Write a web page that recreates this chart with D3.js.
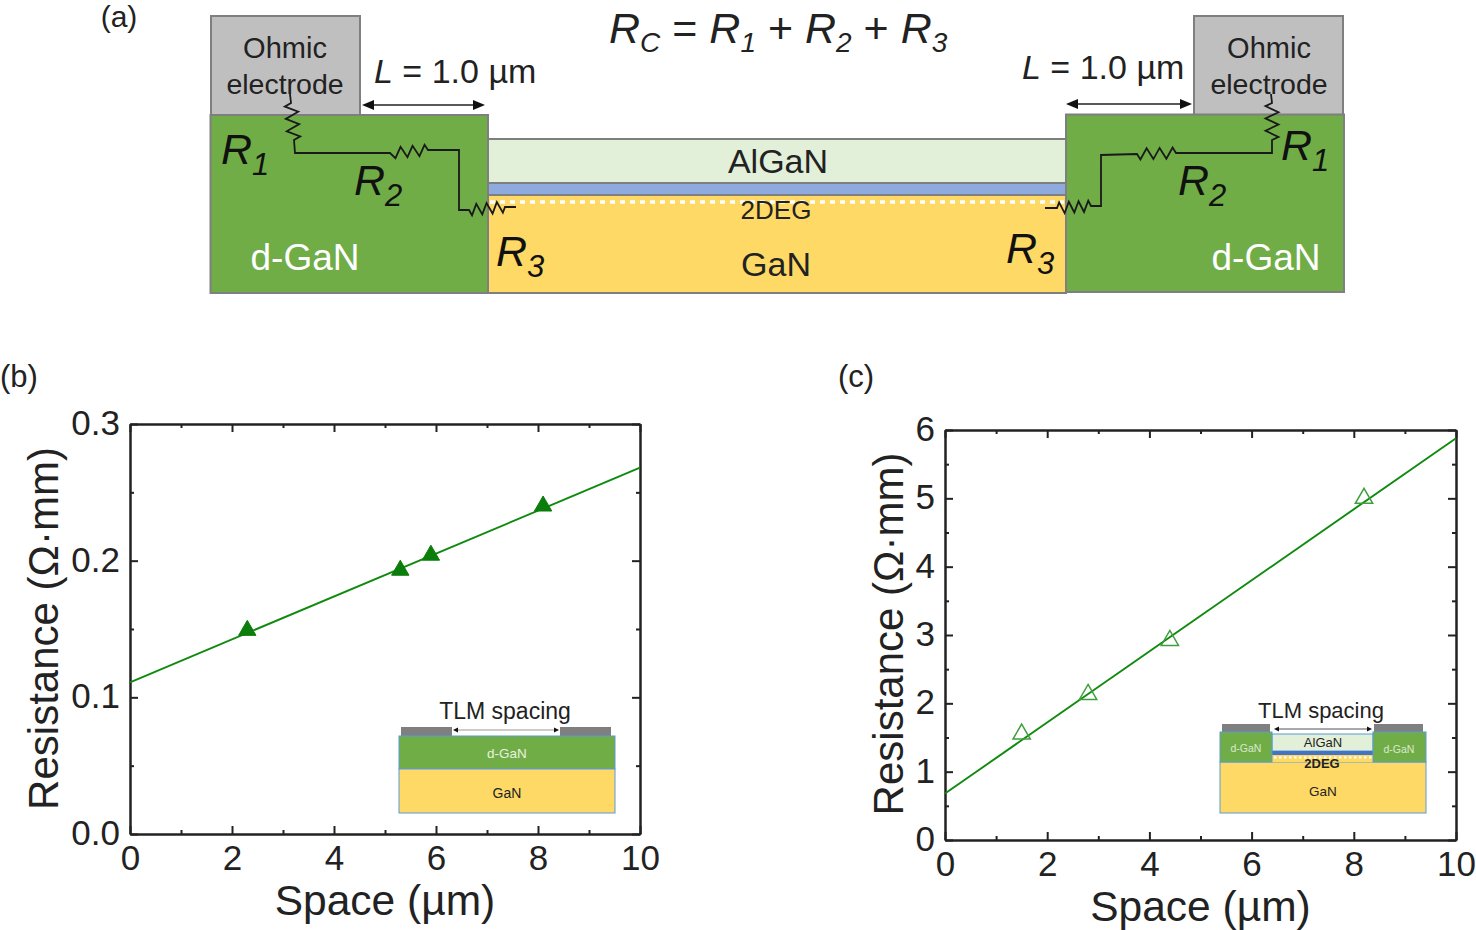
<!DOCTYPE html>
<html><head><meta charset="utf-8">
<script src="https://cdn.jsdelivr.net/npm/d3@7"></script>
<style>html,body{margin:0;background:#fff}svg{display:block}text{font-family:"Liberation Sans",Arial,sans-serif;fill:#222}</style>
</head><body><svg id="c" width="1476" height="930"></svg>
<script>
const spaceB=[2.3,5.3,5.9,8.1];
const resistanceB=[0.149,0.193,0.204,0.240];
const fitB=[[0,0.111],[10,0.268]];
const spaceC=[1.5,2.8,4.4,8.2];
const resistanceC=[1.55,2.13,2.92,5.0];
const fitC=[[0,0.68],[10,5.88]];
const xTicks=[0,2,4,6,8,10];
const yTicksB=[0,0.1,0.2,0.3];
const yTicksC=[0,1,2,3,4,5,6];

const svg=d3.select("#c");
const GREEN="#70ad47",YEL="#ffd966",GRAY="#bfbfbf",EDGE="#7f7f7f",LT="#e2efd9",BLUE="#8faadc",LINE="#0f8a0f";

function rect(g,x0,y0,x1,y1,fill,stroke,sw){
  return g.append("rect").attr("x",x0).attr("y",y0).attr("width",x1-x0).attr("height",y1-y0)
    .attr("fill",fill).attr("stroke",stroke||"none").attr("stroke-width",sw||0);
}
function text(g,x,y,s,size,o={}){
  const t=g.append("text").attr("x",x).attr("y",y).attr("font-size",size)
    .attr("text-anchor",o.anchor||"middle").style("fill",o.fill||"#222");
  if(o.italic)t.attr("font-style","italic");
  if(o.weight)t.attr("font-weight",o.weight);
  return t.text(s);
}
// italic R with a subscript
function rsub(g,x,y,sub,size=43){
  const t=g.append("text").attr("x",x).attr("y",y).attr("font-size",size).attr("font-style","italic").style("fill","#111");
  t.append("tspan").text("R");
  t.append("tspan").attr("font-size",31).attr("dy",11).text(sub);
}
function zig(from,to,n,amp){
  const pts=[from],dx=to[0]-from[0],dy=to[1]-from[1],len=Math.hypot(dx,dy),nx=-dy/len,ny=dx/len;
  for(let i=0;i<n;i++){
    const f=(i+0.5)/n,s=i%2?-1:1;
    pts.push([from[0]+dx*f+nx*amp*s,from[1]+dy*f+ny*amp*s]);
  }
  pts.push(to);return pts;
}
const ln=d3.line();
function wire(g,pts,w=1.8){g.append("path").attr("d",ln(pts)).attr("fill","none").attr("stroke","#1a1a1a").attr("stroke-width",w).attr("stroke-linejoin","miter");}
function arrow(g,x0,x1,y,h,w,sw,col="#222"){
  g.append("line").attr("x1",x0+w-1).attr("x2",x1-w+1).attr("y1",y).attr("y2",y).attr("stroke",col).attr("stroke-width",sw);
  g.append("path").attr("d",ln([[x0,y],[x0+w,y-h],[x0+w,y+h]])+"Z").attr("fill","#111");
  g.append("path").attr("d",ln([[x1,y],[x1-w,y-h],[x1-w,y+h]])+"Z").attr("fill","#111");
}

/* ---------- panel a ---------- */
const a=svg.append("g");
text(a,119,27,"(a)",30);
const eq=a.append("text").attr("x",609).attr("y",43).attr("font-size",43).style("fill","#222");
[["R",1,0],["C",1,9],[" = ",0,-9],["R",1,0],["1",1,9],[" + ",0,-9],["R",1,0],["2",1,9],[" + ",0,-9],["R",1,0],["3",1,9]].forEach(([s,it,dy])=>{
  const sp=eq.append("tspan").text(s).attr("dy",dy).style("white-space","pre");
  if(it)sp.attr("font-style","italic");
  if(dy>0)sp.attr("font-size",28);
});
rect(a,488,139,1066,183,LT,EDGE,2);
rect(a,488,195,1066,293,YEL,EDGE,2);
rect(a,488,183,1066,195,BLUE,EDGE,2);
a.append("line").attr("x1",490).attr("x2",1064).attr("y1",202).attr("y2",202).attr("stroke","#fff").attr("stroke-width",3.5).attr("stroke-dasharray","5 5");
rect(a,211,16,360,115,GRAY,EDGE,2);
rect(a,1194,16,1343,115,GRAY,EDGE,2);
rect(a,210.5,115,488,293,GREEN,EDGE,2);
rect(a,1066,114.5,1344,292,GREEN,EDGE,2);
text(a,285,58,"Ohmic",29);text(a,285,94,"electrode",28.5);
text(a,1269,58,"Ohmic",29);text(a,1269,94,"electrode",28.5);
text(a,305,270,"d-GaN",37,{fill:"#fff"});
text(a,1266,270,"d-GaN",37,{fill:"#fff"});
text(a,778,173,"AlGaN",34);
text(a,776,219,"2DEG",26);
text(a,776,276,"GaN",34);
const lt=(g,x,y)=>{const t=g.append("text").attr("x",x).attr("y",y).attr("font-size",34).style("fill","#222");
  t.append("tspan").attr("font-style","italic").text("L");t.append("tspan").text(" = 1.0 µm");};
lt(a,374,83);lt(a,1022,79);
arrow(a,362,485,105,5,12,1.5);
arrow(a,1066,1192,104,5,12,1.5);
rsub(a,221,164,"1");rsub(a,354,195,"2");rsub(a,496,266,"3");
rsub(a,1281,160,"1");rsub(a,1178,195,"2");rsub(a,1006,263,"3");
wire(a,[[290,94],[291,103],...zig([291,103],[294,140],6,6.5).slice(1),[295,153],[390,153],...zig([392,153],[428,150],6,5.5).slice(1),[459,150],[459,210],[469,210],...zig([469,210],[505,207],7,5.5).slice(1),[516,207]]);
wire(a,[[1271,94],[1272,103],...zig([1272,103],[1272,140],6,6.5).slice(1),[1272,153],[1176,153],...zig([1176,153],[1137,154],6,5.5).slice(1),[1101,155],[1101,206],[1091,206],...zig([1091,206],[1057,208],7,5.5).slice(1),[1045,208]]);

/* ---------- scatter panels ---------- */
function plot(o){
  const g=svg.append("g");
  const x=d3.scaleLinear().domain([0,10]).range([o.x0,o.x1]);
  const y=d3.scaleLinear().domain(o.yDom).range([o.y0,o.y1]);
  const ax=(gen,tx,ty)=>{
    const s=g.append("g").attr("transform",`translate(${tx},${ty})`).call(gen);
    s.selectAll("path").attr("stroke","#222").attr("stroke-width",2);
    s.selectAll("line").attr("stroke","#222").attr("stroke-width",2);
    return s;
  };
  const xMinor=d3.range(1,10,2), yMinor=o.yMinor;
  ax(d3.axisBottom(x).tickValues(xMinor).tickSize(-4).tickSizeOuter(0).tickFormat(""),0,o.y0);
  ax(d3.axisTop(x).tickValues(xMinor).tickSize(-4).tickSizeOuter(0).tickFormat(""),0,o.y1);
  ax(d3.axisLeft(y).tickValues(yMinor).tickSize(-4).tickSizeOuter(0).tickFormat(""),o.x0,0);
  ax(d3.axisRight(y).tickValues(yMinor).tickSize(-4).tickSizeOuter(0).tickFormat(""),o.x1,0);
  ax(d3.axisTop(x).tickValues(xTicks).tickSize(-8).tickSizeOuter(0).tickFormat(""),0,o.y1);
  ax(d3.axisRight(y).tickValues(o.yTicks).tickSize(-8).tickSizeOuter(0).tickFormat(""),o.x1,0);
  const bx=ax(d3.axisBottom(x).tickValues(xTicks).tickSize(-8).tickSizeOuter(0),0,o.y0);
  const by=ax(d3.axisLeft(y).tickValues(o.yTicks).tickSize(-8).tickSizeOuter(0).tickPadding(10).tickFormat(o.fmt),o.x0,0);
  [bx,by].forEach(s=>s.selectAll("text").attr("font-size",35).style("fill","#222"));
  by.selectAll("text").attr("dy","0.3em");
  bx.selectAll("text").attr("y",11.5).attr("dy","0.71em");
  const line=d3.line().x(d=>x(d[0])).y(d=>y(d[1]));
  g.append("path").attr("d",line(o.fit)).attr("fill","none").attr("stroke",LINE).attr("stroke-width",1.9);
  const tri=d3.symbol().type(d3.symbolTriangle).size(o.size);
  g.selectAll("path.m").data(o.xs.map((v,i)=>[v,o.ys[i]])).join("path").attr("class","m")
    .attr("d",tri).attr("transform",d=>`translate(${x(d[0])},${y(d[1])})`)
    .attr("fill",o.fill).attr("stroke",o.stroke).attr("stroke-width",o.sw);
  text(g,(o.x0+o.x1)/2,o.y0+81,"Space (µm)",42.5);
  text(g,0,0,"Resistance (Ω·mm)",42).attr("transform",`translate(${o.titleX},${o.titleY}) rotate(-90)`);
  return g;
}
const pb=plot({x0:130,x1:640,y0:834,y1:424,yDom:[0,0.3],yTicks:yTicksB,yMinor:[0.05,0.15,0.25],fmt:d3.format(".1f"),
  xs:spaceB,ys:resistanceB,fit:fitB,fill:"#0a7d0a",stroke:"#0a7d0a",sw:1,size:130,titleX:58,titleY:628.5});
const pc=plot({x0:945,x1:1456,y0:840,y1:430,yDom:[0,6],yTicks:yTicksC,yMinor:[0.5,1.5,2.5,3.5,4.5,5.5],fmt:d3.format("d"),
  xs:spaceC,ys:resistanceC,fit:fitC,fill:"none",stroke:"#3f9f3f",sw:1.5,size:130,titleX:903,titleY:634});
text(svg,19,387,"(b)",31);
text(svg,856,387,"(c)",31);

/* insets */
const ib=svg.append("g");
rect(ib,401,727,452,736,"#7f7f7f");rect(ib,560,727,611,736,"#7f7f7f");
rect(ib,399,736,615,769,GREEN,"#5b9bd5",1);
rect(ib,399,769,615,813,YEL,"#5b9bd5",1);
arrow(ib,453,559,730,2.5,5,1.2,"#999");
text(ib,505,719,"TLM spacing",23);
text(ib,507,758,"d-GaN",13.5,{fill:"#e8f2e0"});
text(ib,507,798,"GaN",14);

const ic=svg.append("g");
rect(ic,1222,724,1270,733,"#7f7f7f");rect(ic,1374,724,1423,733,"#7f7f7f");
rect(ic,1220,762,1426,813,YEL,"#5b9bd5",1);
rect(ic,1272,755,1373,762,YEL);
rect(ic,1272,734,1373,751,LT,"#5b9bd5",1);
rect(ic,1272,751,1373,755,"#4472c4");
ic.append("line").attr("x1",1274).attr("x2",1372).attr("y1",757.5).attr("y2",757.5).attr("stroke","#fff").attr("stroke-width",1.8).attr("stroke-dasharray","2.5 2.5");
rect(ic,1220,732,1272,762,GREEN,"#5b9bd5",1);
rect(ic,1373,732,1426,762,GREEN,"#5b9bd5",1);
arrow(ic,1274,1372,729,2.5,5,1.2,"#555");
text(ic,1321,718,"TLM spacing",22);
text(ic,1246,752,"d-GaN",10.5,{fill:"#dbe8d0"});
text(ic,1399,753,"d-GaN",10.5,{fill:"#dbe8d0"});
text(ic,1323,747,"AlGaN",13);
text(ic,1322,768,"2DEG",13,{weight:"bold"});
text(ic,1323,796,"GaN",13.5);
</script></body></html>
